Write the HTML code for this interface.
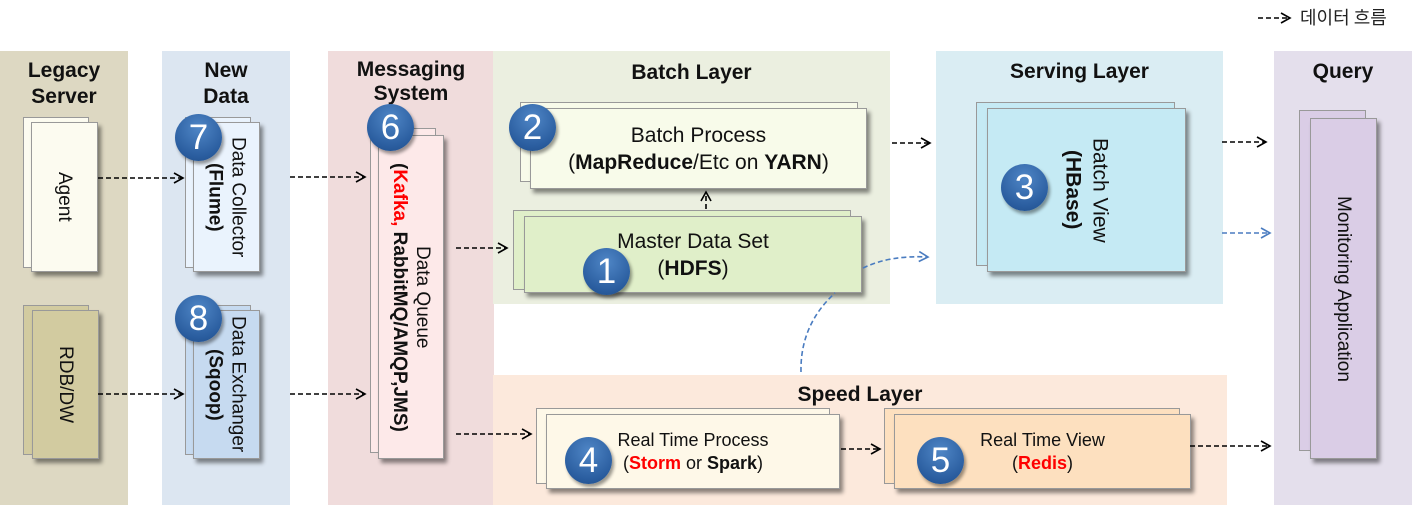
<!DOCTYPE html>
<html><head><meta charset="utf-8"><style>
body{margin:0;width:1416px;height:517px;position:relative;background:#fff;font-family:"Liberation Sans","Noto Sans CJK KR",sans-serif;overflow:hidden}
.r{position:absolute}
.t{position:absolute;font-weight:bold;font-size:21px;text-align:center;line-height:26px;color:#111}
.b{position:absolute;border:1px solid #999;box-sizing:border-box}
.f{box-shadow:3px 4px 4px rgba(0,0,0,.45);display:flex;align-items:center;justify-content:center;text-align:center;font-size:19px;color:#111;line-height:23px}
.v{writing-mode:vertical-rl;text-align:center}
.c{position:absolute;width:47px;height:47px;border-radius:50%;background:radial-gradient(circle at 50% 30%,#4f86c6,#2a5d9f 70%,#1f4c86);color:#fff;font-size:35px;display:flex;align-items:center;justify-content:center;box-shadow:2px 3px 3px rgba(0,0,0,.4)}
.red{color:#f00;font-weight:bold}
svg{position:absolute;left:0;top:0}
</style></head><body>
<div class="r" style="left:0;top:51px;width:128px;height:454px;background:#ddd8c2"></div>
<div class="r" style="left:162px;top:51px;width:128px;height:454px;background:#dce6f1"></div>
<div class="r" style="left:328px;top:51px;width:166px;height:454px;background:#f0dcdc"></div>
<div class="r" style="left:493px;top:51px;width:397px;height:253px;background:#ebefe0"></div>
<div class="r" style="left:493px;top:375px;width:734px;height:130px;background:#fce9dc"></div>
<div class="r" style="left:936px;top:51px;width:287px;height:253px;background:#daedf3"></div>
<div class="r" style="left:1274px;top:51px;width:138px;height:454px;background:#e4dfec"></div>

<div class="t" style="left:0;top:58px;width:128px">Legacy<br>Server</div>
<div class="t" style="left:162px;top:58px;width:128px">New<br>Data</div>
<div class="t" style="left:328px;top:58px;width:166px;line-height:24px">Messaging<br>System</div>
<div class="t" style="left:493px;top:60px;width:397px">Batch Layer</div>
<div class="t" style="left:936px;top:59px;width:287px">Serving Layer</div>
<div class="t" style="left:1274px;top:59px;width:138px">Query</div>
<div class="t" style="left:760px;top:382px;width:200px">Speed Layer</div>

<div class="b" style="left:23px;top:117px;width:66px;height:151px;background:#fcfbf0"></div>
<div class="b f" style="left:31px;top:122px;width:67px;height:150px;background:#fcfbf0"><div class="v">Agent</div></div>
<div class="b" style="left:23px;top:305px;width:66px;height:150px;background:#d2cba0"></div>
<div class="b f" style="left:32px;top:310px;width:67px;height:149px;background:#d2cba0"><div class="v">RDB/DW</div></div>

<div class="b" style="left:185px;top:117px;width:66px;height:151px;background:#eaf3fd"></div>
<div class="b f" style="left:193px;top:122px;width:67px;height:150px;background:#eaf3fd"><div class="v">Data Collector<br><b>(Flume)</b></div></div>
<div class="b" style="left:185px;top:305px;width:66px;height:150px;background:#c6daf0"></div>
<div class="b f" style="left:193px;top:310px;width:67px;height:149px;background:#c6daf0"><div class="v">Data Exchanger<br><b>(Sqoop)</b></div></div>

<div class="b" style="left:370px;top:128px;width:66px;height:325px;background:#fde9e9"></div>
<div class="b f" style="left:378px;top:135px;width:66px;height:324px;background:#fde9e9"><div class="v">Data Queue<br><b>(<span class="red">Kafka,</span> RabbitMQ/AMQP,JMS)</b></div></div>

<div class="b" style="left:520px;top:102px;width:338px;height:80px;background:#f8fbea"></div>
<div class="b f" style="left:530px;top:108px;width:337px;height:81px;background:#f8fbea;font-size:21px;line-height:27px"><div>Batch Process<br>(<b>MapReduce</b>/Etc on <b>YARN</b>)</div></div>
<div class="b" style="left:513px;top:210px;width:338px;height:80px;background:#e0efc9"></div>
<div class="b f" style="left:524px;top:216px;width:338px;height:77px;background:#e0efc9;font-size:21px;line-height:27px"><div>Master Data Set<br>(<b>HDFS</b>)</div></div>

<div class="b" style="left:976px;top:102px;width:199px;height:164px;background:#c5eaf4"></div>
<div class="b f" style="left:987px;top:108px;width:199px;height:164px;background:#c5eaf4;font-size:21px;line-height:27px"><div class="v">Batch View<br><b>(HBase)</b></div></div>

<div class="b" style="left:1299px;top:110px;width:67px;height:341px;background:#dacde6"></div>
<div class="b f" style="left:1310px;top:118px;width:67px;height:341px;background:#dacde6"><div class="v">Monitoring Application</div></div>

<div class="b" style="left:536px;top:408px;width:294px;height:76px;background:#fef8e8"></div>
<div class="b f" style="left:546px;top:414px;width:294px;height:75px;background:#fef8e8;font-size:18px"><div>Real Time Process<br>(<span class="red">Storm</span> or <b>Spark</b>)</div></div>
<div class="b" style="left:884px;top:408px;width:296px;height:76px;background:#fde0bf"></div>
<div class="b f" style="left:894px;top:414px;width:297px;height:75px;background:#fde0bf;font-size:18px"><div>Real Time View<br>(<span class="red">Redis</span>)</div></div>

<div class="c" style="left:175px;top:114px">7</div>
<div class="c" style="left:175px;top:295px">8</div>
<div class="c" style="left:367px;top:104px">6</div>
<div class="c" style="left:509px;top:104px">2</div>
<div class="c" style="left:583px;top:248px">1</div>
<div class="c" style="left:1001px;top:164px">3</div>
<div class="c" style="left:565px;top:437px">4</div>
<div class="c" style="left:917px;top:437px">5</div>

<svg width="1416" height="517">
<defs>
<marker id="a" markerWidth="12" markerHeight="12" refX="10" refY="6" orient="auto" markerUnits="userSpaceOnUse"><path d="M1,1 L10,6 L1,11" fill="none" stroke="#000" stroke-width="1.6"/></marker>
<marker id="ab" markerWidth="12" markerHeight="12" refX="10" refY="6" orient="auto" markerUnits="userSpaceOnUse"><path d="M1,1 L10,6 L1,11" fill="none" stroke="#4a7cc0" stroke-width="1.6"/></marker>
</defs>
<g fill="none" stroke="#000" stroke-width="1.6" stroke-dasharray="5,3" marker-end="url(#a)">
<path d="M98,178 H183"/>
<path d="M98,394 H183"/>
<path d="M290,177 H365"/>
<path d="M290,394 H365"/>
<path d="M456,248 H507"/>
<path d="M456,434 H531"/>
<path d="M706,209 V192"/>
<path d="M892,143 H930"/>
<path d="M1222,142 H1266"/>
<path d="M841,449 H880"/>
<path d="M1190,446 H1270"/>
<path d="M1258,18 H1290"/>
</g>
<g fill="none" stroke="#4a7cc0" stroke-width="1.6" stroke-dasharray="5,3" marker-end="url(#ab)">
<path d="M1222,233 H1270"/>
<path d="M863,268 Q890,255 928,257"/>
</g>
<path d="M801,372 Q800,325 835,293" fill="none" stroke="#4a7cc0" stroke-width="1.6" stroke-dasharray="5,3"/>
<text x="1300" y="24" font-size="18" fill="#222" font-family="Noto Sans CJK KR, sans-serif">데이터 흐름</text>
</svg>
</body></html>
